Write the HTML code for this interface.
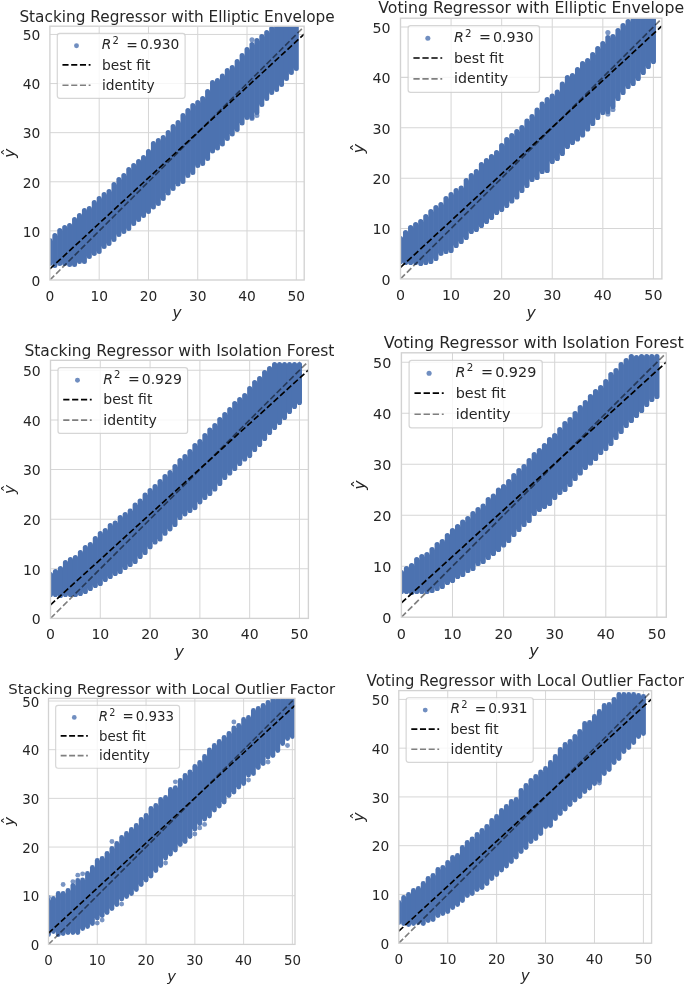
<!DOCTYPE html>
<html><head><meta charset="utf-8"><title>Regressor comparison</title>
<style>html,body{margin:0;padding:0;background:#fff;}svg{display:block;}</style></head>
<body><svg width="685" height="986" viewBox="0 0 685 986">
<rect width="685" height="986" fill="#fff"/>
<clipPath id="c1"><rect x="49.9" y="26.2" width="254.3" height="253.8"/></clipPath>
<line x1="99.18" y1="26.2" x2="99.18" y2="280" stroke="#D6D6D6" stroke-width="1"/>
<line x1="49.9" y1="230.89" x2="304.2" y2="230.89" stroke="#D6D6D6" stroke-width="1"/>
<line x1="148.46" y1="26.2" x2="148.46" y2="280" stroke="#D6D6D6" stroke-width="1"/>
<line x1="49.9" y1="181.78" x2="304.2" y2="181.78" stroke="#D6D6D6" stroke-width="1"/>
<line x1="197.74" y1="26.2" x2="197.74" y2="280" stroke="#D6D6D6" stroke-width="1"/>
<line x1="49.9" y1="132.67" x2="304.2" y2="132.67" stroke="#D6D6D6" stroke-width="1"/>
<line x1="247.02" y1="26.2" x2="247.02" y2="280" stroke="#D6D6D6" stroke-width="1"/>
<line x1="49.9" y1="83.56" x2="304.2" y2="83.56" stroke="#D6D6D6" stroke-width="1"/>
<line x1="296.3" y1="26.2" x2="296.3" y2="280" stroke="#D6D6D6" stroke-width="1"/>
<line x1="49.9" y1="34.45" x2="304.2" y2="34.45" stroke="#D6D6D6" stroke-width="1"/>
<g clip-path="url(#c1)" fill="#6283BC">
<rect x="49.9" y="240.5" width="4.93" height="23"/>
<rect x="54.83" y="235.5" width="4.93" height="28"/>
<rect x="59.76" y="230.5" width="4.93" height="33"/>
<rect x="64.68" y="227.5" width="4.93" height="36"/>
<rect x="69.61" y="225.5" width="4.93" height="39"/>
<rect x="74.54" y="219.5" width="4.93" height="42"/>
<rect x="79.47" y="215.5" width="4.93" height="46"/>
<rect x="84.4" y="210.5" width="4.93" height="46"/>
<rect x="89.32" y="208.5" width="4.93" height="45"/>
<rect x="94.25" y="202.5" width="4.93" height="49"/>
<rect x="99.18" y="198.5" width="4.93" height="48"/>
<rect x="104.11" y="194.5" width="4.93" height="49"/>
<rect x="109.04" y="191.5" width="4.93" height="48"/>
<rect x="113.96" y="184.5" width="4.93" height="50"/>
<rect x="118.89" y="179.5" width="4.93" height="52"/>
<rect x="123.82" y="175.5" width="4.93" height="53"/>
<rect x="128.75" y="169.5" width="4.93" height="54"/>
<rect x="133.68" y="165.5" width="4.93" height="54"/>
<rect x="138.6" y="161.5" width="4.93" height="54"/>
<rect x="143.53" y="157.5" width="4.93" height="54"/>
<rect x="148.46" y="151.5" width="4.93" height="55.5"/>
<rect x="153.39" y="143.5" width="4.93" height="60"/>
<rect x="158.32" y="140.5" width="4.93" height="58"/>
<rect x="163.24" y="137.5" width="4.93" height="55.5"/>
<rect x="168.17" y="132.5" width="4.93" height="56"/>
<rect x="173.1" y="126.5" width="4.93" height="57.5"/>
<rect x="178.03" y="122.5" width="4.93" height="59"/>
<rect x="182.96" y="115.5" width="4.93" height="60"/>
<rect x="187.88" y="110.5" width="4.93" height="62"/>
<rect x="192.81" y="105.5" width="4.93" height="60"/>
<rect x="197.74" y="102.5" width="4.93" height="61"/>
<rect x="202.67" y="98.5" width="4.93" height="60"/>
<rect x="207.6" y="91.5" width="4.93" height="59.5"/>
<rect x="212.52" y="82.5" width="4.93" height="65.5"/>
<rect x="217.45" y="80.5" width="4.93" height="63.5"/>
<rect x="222.38" y="76.1" width="4.93" height="62.4"/>
<rect x="227.31" y="70.5" width="4.93" height="63.5"/>
<rect x="232.24" y="67.5" width="4.93" height="62"/>
<rect x="237.16" y="61.5" width="4.93" height="61.5"/>
<rect x="242.09" y="55.5" width="4.93" height="62"/>
<rect x="247.02" y="49.5" width="4.93" height="68"/>
<rect x="251.95" y="44.5" width="4.93" height="68"/>
<rect x="256.88" y="40.5" width="4.93" height="64"/>
<rect x="261.8" y="36.5" width="4.93" height="62"/>
<rect x="266.73" y="32.5" width="4.93" height="60"/>
<rect x="271.66" y="28.5" width="4.93" height="61"/>
<rect x="276.59" y="24.5" width="4.93" height="60"/>
<rect x="281.52" y="24.5" width="4.93" height="54"/>
<rect x="286.44" y="24.5" width="4.93" height="48"/>
<rect x="291.37" y="24.5" width="4.93" height="44"/>
</g>
<g clip-path="url(#c1)" stroke="#4C72B0" stroke-width="5" stroke-linecap="round" stroke-opacity="1">
<line x1="49.9" y1="240.5" x2="49.9" y2="263.5"/>
<line x1="54.83" y1="235.5" x2="54.83" y2="265.5"/>
<line x1="59.76" y1="230.5" x2="59.76" y2="263.5"/>
<line x1="64.68" y1="227.5" x2="64.68" y2="263.5"/>
<line x1="69.61" y1="225.5" x2="69.61" y2="264.5"/>
<line x1="74.54" y1="219.5" x2="74.54" y2="264.5"/>
<line x1="79.47" y1="215.5" x2="79.47" y2="261.5"/>
<line x1="84.4" y1="210.5" x2="84.4" y2="261.5"/>
<line x1="89.32" y1="208.5" x2="89.32" y2="256.5"/>
<line x1="94.25" y1="202.5" x2="94.25" y2="253.5"/>
<line x1="99.18" y1="198.5" x2="99.18" y2="251.5"/>
<line x1="104.11" y1="194.5" x2="104.11" y2="246.5"/>
<line x1="109.04" y1="191.5" x2="109.04" y2="243.5"/>
<line x1="113.96" y1="184.5" x2="113.96" y2="239.5"/>
<line x1="118.89" y1="179.5" x2="118.89" y2="234.5"/>
<line x1="123.82" y1="175.5" x2="123.82" y2="231.5"/>
<line x1="128.75" y1="169.5" x2="128.75" y2="228.5"/>
<line x1="133.68" y1="165.5" x2="133.68" y2="223.5"/>
<line x1="138.6" y1="161.5" x2="138.6" y2="219.5"/>
<line x1="143.53" y1="157.5" x2="143.53" y2="215.5"/>
<line x1="148.46" y1="151.5" x2="148.46" y2="211.5"/>
<line x1="153.39" y1="143.5" x2="153.39" y2="207"/>
<line x1="158.32" y1="140.5" x2="158.32" y2="203.5"/>
<line x1="163.24" y1="137.5" x2="163.24" y2="198.5"/>
<line x1="168.17" y1="132.5" x2="168.17" y2="193"/>
<line x1="173.1" y1="126.5" x2="173.1" y2="188.5"/>
<line x1="178.03" y1="122.5" x2="178.03" y2="184"/>
<line x1="182.96" y1="115.5" x2="182.96" y2="181.5"/>
<line x1="187.88" y1="110.5" x2="187.88" y2="175.5"/>
<line x1="192.81" y1="105.5" x2="192.81" y2="172.5"/>
<line x1="197.74" y1="102.5" x2="197.74" y2="165.5"/>
<line x1="202.67" y1="98.5" x2="202.67" y2="163.5"/>
<line x1="207.6" y1="91.5" x2="207.6" y2="158.5"/>
<line x1="212.52" y1="82.5" x2="212.52" y2="151"/>
<line x1="217.45" y1="80.5" x2="217.45" y2="148"/>
<line x1="222.38" y1="76.1" x2="222.38" y2="144"/>
<line x1="227.31" y1="70.5" x2="227.31" y2="138.5"/>
<line x1="232.24" y1="67.5" x2="232.24" y2="134"/>
<line x1="237.16" y1="61.5" x2="237.16" y2="129.5"/>
<line x1="242.09" y1="55.5" x2="242.09" y2="123"/>
<line x1="247.02" y1="49.5" x2="247.02" y2="117.5"/>
<line x1="251.95" y1="44.5" x2="251.95" y2="117.5"/>
<line x1="256.88" y1="40.5" x2="256.88" y2="112.5"/>
<line x1="261.8" y1="36.5" x2="261.8" y2="104.5"/>
<line x1="266.73" y1="32.5" x2="266.73" y2="98.5"/>
<line x1="271.66" y1="28.5" x2="271.66" y2="92.5"/>
<line x1="276.59" y1="24.5" x2="276.59" y2="89.5"/>
<line x1="281.52" y1="24.5" x2="281.52" y2="84.5"/>
<line x1="286.44" y1="24.5" x2="286.44" y2="78.5"/>
<line x1="291.37" y1="24.5" x2="291.37" y2="72.5"/>
<line x1="296.3" y1="24.5" x2="296.3" y2="68.5"/>
</g>
<g clip-path="url(#c1)" fill="#4C72B0" fill-opacity="0.75">
<circle cx="251.95" cy="39.7" r="2.5"/>
<circle cx="256.88" cy="115.5" r="2.5"/>
<circle cx="251.95" cy="118.5" r="2.5"/>
</g>
<g clip-path="url(#c1)" fill="none">
<line x1="49.9" y1="280" x2="304.2" y2="26.58" stroke="#000" stroke-opacity="0.5" stroke-width="1.65" stroke-dasharray="6.1,2.64"/>
<line x1="49.9" y1="268.9" x2="304.2" y2="34.1" stroke="#000" stroke-width="1.65" stroke-dasharray="6.1,2.64"/>
</g>
<rect x="49.9" y="26.2" width="254.3" height="253.8" fill="none" stroke="#D2D2D2" stroke-width="1.35"/>
<rect x="57.3" y="33.4" width="127.8" height="64.9" rx="2.5" fill="#fff" fill-opacity="0.8" stroke="#ccc" stroke-opacity="0.8" stroke-width="1.2"/>
<circle cx="76.5" cy="45.8" r="2.45" fill="#4C72B0" fill-opacity="0.8"/>
<line x1="62.45" y1="64.9" x2="90.5" y2="64.9" stroke="#000" stroke-width="1.65" stroke-dasharray="6.1,2.64"/>
<line x1="62.45" y1="85.2" x2="90.5" y2="85.2" stroke="#000" stroke-opacity="0.5" stroke-width="1.65" stroke-dasharray="6.1,2.64"/>
<g fill="#262626" font-family="'DejaVu Sans', 'Liberation Sans', sans-serif" font-size="13.8">
<text x="101.85" y="49.1" font-style="italic">R</text>
<text x="112.6" y="44" font-size="9.94">2</text>
<text x="126.3" y="49.6">=</text>
<text x="139.9" y="49.1">0.930</text>
<text x="102" y="69.7">best fit</text>
<text x="102" y="89.6">identity</text>
</g>
<g fill="#262626" font-family="'DejaVu Sans', 'Liberation Sans', sans-serif" font-size="13.8">
<text x="40.3" y="285.74" text-anchor="end">0</text>
<text x="49.9" y="300.8" text-anchor="middle">0</text>
<text x="40.3" y="236.63" text-anchor="end">10</text>
<text x="99.18" y="300.8" text-anchor="middle">10</text>
<text x="40.3" y="187.52" text-anchor="end">20</text>
<text x="148.46" y="300.8" text-anchor="middle">20</text>
<text x="40.3" y="138.41" text-anchor="end">30</text>
<text x="197.74" y="300.8" text-anchor="middle">30</text>
<text x="40.3" y="89.3" text-anchor="end">40</text>
<text x="247.02" y="300.8" text-anchor="middle">40</text>
<text x="40.3" y="40.19" text-anchor="end">50</text>
<text x="296.3" y="300.8" text-anchor="middle">50</text>
</g>
<text x="177.05" y="21.5" text-anchor="middle" fill="#262626" font-family="'DejaVu Sans', 'Liberation Sans', sans-serif" font-size="15.3">Stacking Regressor with Elliptic Envelope</text>
<text x="177.05" y="317.6" text-anchor="middle" fill="#262626" font-family="'DejaVu Sans', 'Liberation Sans', sans-serif" font-size="15.3" font-style="italic">y</text>
<g transform="translate(14.8,153.1) rotate(-90)" fill="#262626" font-family="'DejaVu Sans', 'Liberation Sans', sans-serif"><text text-anchor="middle" font-size="15.3" font-style="italic">y</text><text x="-3.2" y="-1" font-size="16">ˆ</text></g>
<clipPath id="c2"><rect x="400.5" y="18.2" width="261.4" height="260.7"/></clipPath>
<line x1="451.08" y1="18.2" x2="451.08" y2="278.9" stroke="#D6D6D6" stroke-width="1.03"/>
<line x1="400.5" y1="228.52" x2="661.9" y2="228.52" stroke="#D6D6D6" stroke-width="1.03"/>
<line x1="501.66" y1="18.2" x2="501.66" y2="278.9" stroke="#D6D6D6" stroke-width="1.03"/>
<line x1="400.5" y1="178.14" x2="661.9" y2="178.14" stroke="#D6D6D6" stroke-width="1.03"/>
<line x1="552.24" y1="18.2" x2="552.24" y2="278.9" stroke="#D6D6D6" stroke-width="1.03"/>
<line x1="400.5" y1="127.76" x2="661.9" y2="127.76" stroke="#D6D6D6" stroke-width="1.03"/>
<line x1="602.82" y1="18.2" x2="602.82" y2="278.9" stroke="#D6D6D6" stroke-width="1.03"/>
<line x1="400.5" y1="77.38" x2="661.9" y2="77.38" stroke="#D6D6D6" stroke-width="1.03"/>
<line x1="653.4" y1="18.2" x2="653.4" y2="278.9" stroke="#D6D6D6" stroke-width="1.03"/>
<line x1="400.5" y1="27" x2="661.9" y2="27" stroke="#D6D6D6" stroke-width="1.03"/>
<g clip-path="url(#c2)" fill="#6283BC">
<rect x="400.5" y="238.57" width="5.06" height="22.86"/>
<rect x="405.56" y="232.57" width="5.06" height="29.86"/>
<rect x="410.62" y="227.57" width="5.06" height="34.86"/>
<rect x="415.67" y="224.57" width="5.06" height="37.86"/>
<rect x="420.73" y="221.57" width="5.06" height="40.86"/>
<rect x="425.79" y="216.57" width="5.06" height="44.86"/>
<rect x="430.85" y="211.57" width="5.06" height="46.86"/>
<rect x="435.91" y="207.57" width="5.06" height="45.86"/>
<rect x="440.96" y="204.57" width="5.06" height="46.86"/>
<rect x="446.02" y="198.57" width="5.06" height="51.86"/>
<rect x="451.08" y="194.57" width="5.06" height="50.86"/>
<rect x="456.14" y="190.57" width="5.06" height="50.86"/>
<rect x="461.2" y="188.07" width="5.06" height="49.36"/>
<rect x="466.25" y="180.57" width="5.06" height="50.86"/>
<rect x="471.31" y="175.57" width="5.06" height="53.86"/>
<rect x="476.37" y="171.57" width="5.06" height="53.86"/>
<rect x="481.43" y="164.57" width="5.06" height="56.86"/>
<rect x="486.49" y="160.57" width="5.06" height="56.86"/>
<rect x="491.54" y="156.57" width="5.06" height="55.86"/>
<rect x="496.6" y="152.57" width="5.06" height="56.86"/>
<rect x="501.66" y="145.57" width="5.06" height="59.86"/>
<rect x="506.72" y="139.57" width="5.06" height="61.36"/>
<rect x="511.78" y="135.57" width="5.06" height="61.36"/>
<rect x="516.83" y="131.57" width="5.06" height="58.86"/>
<rect x="521.89" y="127.57" width="5.06" height="57.86"/>
<rect x="526.95" y="121.07" width="5.06" height="58.36"/>
<rect x="532.01" y="116.57" width="5.06" height="60.86"/>
<rect x="537.07" y="110.07" width="5.06" height="61.36"/>
<rect x="542.12" y="104.07" width="5.06" height="66.36"/>
<rect x="547.18" y="99.57" width="5.06" height="61.86"/>
<rect x="552.24" y="96.07" width="5.06" height="62.36"/>
<rect x="557.3" y="92.07" width="5.06" height="61.36"/>
<rect x="562.36" y="84.07" width="5.06" height="62.36"/>
<rect x="567.41" y="77.57" width="5.06" height="64.86"/>
<rect x="572.47" y="75.57" width="5.06" height="63.36"/>
<rect x="577.53" y="69.57" width="5.06" height="65.36"/>
<rect x="582.59" y="63.57" width="5.06" height="65.36"/>
<rect x="587.65" y="60.57" width="5.06" height="62.86"/>
<rect x="592.7" y="54.57" width="5.06" height="62.86"/>
<rect x="597.76" y="48.57" width="5.06" height="63.86"/>
<rect x="602.82" y="43.57" width="5.06" height="67.86"/>
<rect x="607.88" y="37.57" width="5.06" height="68.86"/>
<rect x="612.94" y="36.57" width="5.06" height="61.86"/>
<rect x="617.99" y="30.57" width="5.06" height="61.86"/>
<rect x="623.05" y="25.57" width="5.06" height="60.86"/>
<rect x="628.11" y="21.57" width="5.06" height="61.86"/>
<rect x="633.17" y="16.57" width="5.06" height="61.86"/>
<rect x="638.23" y="16.57" width="5.06" height="55.86"/>
<rect x="643.28" y="16.57" width="5.06" height="49.86"/>
<rect x="648.34" y="16.57" width="5.06" height="44.86"/>
</g>
<g clip-path="url(#c2)" stroke="#4C72B0" stroke-width="5.14" stroke-linecap="round" stroke-opacity="1">
<line x1="400.5" y1="238.57" x2="400.5" y2="261.43"/>
<line x1="405.56" y1="232.57" x2="405.56" y2="262.43"/>
<line x1="410.62" y1="227.57" x2="410.62" y2="262.43"/>
<line x1="415.67" y1="224.57" x2="415.67" y2="262.43"/>
<line x1="420.73" y1="221.57" x2="420.73" y2="263.43"/>
<line x1="425.79" y1="216.57" x2="425.79" y2="262.43"/>
<line x1="430.85" y1="211.57" x2="430.85" y2="261.43"/>
<line x1="435.91" y1="207.57" x2="435.91" y2="258.43"/>
<line x1="440.96" y1="204.57" x2="440.96" y2="253.43"/>
<line x1="446.02" y1="198.57" x2="446.02" y2="251.43"/>
<line x1="451.08" y1="194.57" x2="451.08" y2="250.43"/>
<line x1="456.14" y1="190.57" x2="456.14" y2="245.43"/>
<line x1="461.2" y1="188.07" x2="461.2" y2="241.43"/>
<line x1="466.25" y1="180.57" x2="466.25" y2="237.43"/>
<line x1="471.31" y1="175.57" x2="471.31" y2="231.43"/>
<line x1="476.37" y1="171.57" x2="476.37" y2="229.43"/>
<line x1="481.43" y1="164.57" x2="481.43" y2="225.43"/>
<line x1="486.49" y1="160.57" x2="486.49" y2="221.43"/>
<line x1="491.54" y1="156.57" x2="491.54" y2="217.43"/>
<line x1="496.6" y1="152.57" x2="496.6" y2="212.43"/>
<line x1="501.66" y1="145.57" x2="501.66" y2="209.43"/>
<line x1="506.72" y1="139.57" x2="506.72" y2="205.43"/>
<line x1="511.78" y1="135.57" x2="511.78" y2="200.93"/>
<line x1="516.83" y1="131.57" x2="516.83" y2="196.93"/>
<line x1="521.89" y1="127.57" x2="521.89" y2="190.43"/>
<line x1="526.95" y1="121.07" x2="526.95" y2="185.43"/>
<line x1="532.01" y1="116.57" x2="532.01" y2="179.43"/>
<line x1="537.07" y1="110.07" x2="537.07" y2="177.43"/>
<line x1="542.12" y1="104.07" x2="542.12" y2="171.43"/>
<line x1="547.18" y1="99.57" x2="547.18" y2="170.43"/>
<line x1="552.24" y1="96.07" x2="552.24" y2="161.43"/>
<line x1="557.3" y1="92.07" x2="557.3" y2="158.43"/>
<line x1="562.36" y1="84.07" x2="562.36" y2="153.43"/>
<line x1="567.41" y1="77.57" x2="567.41" y2="146.43"/>
<line x1="572.47" y1="75.57" x2="572.47" y2="142.43"/>
<line x1="577.53" y1="69.57" x2="577.53" y2="138.93"/>
<line x1="582.59" y1="63.57" x2="582.59" y2="134.93"/>
<line x1="587.65" y1="60.57" x2="587.65" y2="128.93"/>
<line x1="592.7" y1="54.57" x2="592.7" y2="123.43"/>
<line x1="597.76" y1="48.57" x2="597.76" y2="117.43"/>
<line x1="602.82" y1="43.57" x2="602.82" y2="112.43"/>
<line x1="607.88" y1="37.57" x2="607.88" y2="111.43"/>
<line x1="612.94" y1="36.57" x2="612.94" y2="106.43"/>
<line x1="617.99" y1="30.57" x2="617.99" y2="98.43"/>
<line x1="623.05" y1="25.57" x2="623.05" y2="92.43"/>
<line x1="628.11" y1="21.57" x2="628.11" y2="86.43"/>
<line x1="633.17" y1="16.57" x2="633.17" y2="83.43"/>
<line x1="638.23" y1="16.57" x2="638.23" y2="78.43"/>
<line x1="643.28" y1="16.57" x2="643.28" y2="72.43"/>
<line x1="648.34" y1="16.57" x2="648.34" y2="66.43"/>
<line x1="653.4" y1="16.57" x2="653.4" y2="61.43"/>
</g>
<g clip-path="url(#c2)" fill="#4C72B0" fill-opacity="0.75">
<circle cx="607.88" cy="32.5" r="2.57"/>
<circle cx="612.94" cy="109.5" r="2.57"/>
<circle cx="607.88" cy="114" r="2.57"/>
</g>
<g clip-path="url(#c2)" fill="none">
<line x1="400.5" y1="278.9" x2="661.9" y2="18.53" stroke="#000" stroke-opacity="0.5" stroke-width="1.7" stroke-dasharray="6.28,2.71"/>
<line x1="400.5" y1="267.5" x2="661.9" y2="25.9" stroke="#000" stroke-width="1.7" stroke-dasharray="6.28,2.71"/>
</g>
<rect x="400.5" y="18.2" width="261.4" height="260.7" fill="none" stroke="#D2D2D2" stroke-width="1.39"/>
<rect x="408.11" y="25.6" width="131.37" height="66.71" rx="2.57" fill="#fff" fill-opacity="0.8" stroke="#ccc" stroke-opacity="0.8" stroke-width="1.23"/>
<circle cx="427.84" cy="38.35" r="2.52" fill="#4C72B0" fill-opacity="0.8"/>
<line x1="413.4" y1="57.98" x2="442.23" y2="57.98" stroke="#000" stroke-width="1.7" stroke-dasharray="6.28,2.71"/>
<line x1="413.4" y1="78.85" x2="442.23" y2="78.85" stroke="#000" stroke-opacity="0.5" stroke-width="1.7" stroke-dasharray="6.28,2.71"/>
<g fill="#262626" font-family="'DejaVu Sans', 'Liberation Sans', sans-serif" font-size="14.19">
<text x="453.9" y="41.74" font-style="italic">R</text>
<text x="464.95" y="36.5" font-size="10.21">2</text>
<text x="479.03" y="42.25">=</text>
<text x="493.01" y="41.74">0.930</text>
<text x="454.05" y="62.91">best fit</text>
<text x="454.05" y="83.37">identity</text>
</g>
<g fill="#262626" font-family="'DejaVu Sans', 'Liberation Sans', sans-serif" font-size="14.19">
<text x="390.63" y="284.8" text-anchor="end">0</text>
<text x="400.5" y="300.28" text-anchor="middle">0</text>
<text x="390.63" y="234.42" text-anchor="end">10</text>
<text x="451.08" y="300.28" text-anchor="middle">10</text>
<text x="390.63" y="184.04" text-anchor="end">20</text>
<text x="501.66" y="300.28" text-anchor="middle">20</text>
<text x="390.63" y="133.66" text-anchor="end">30</text>
<text x="552.24" y="300.28" text-anchor="middle">30</text>
<text x="390.63" y="83.28" text-anchor="end">40</text>
<text x="602.82" y="300.28" text-anchor="middle">40</text>
<text x="390.63" y="32.9" text-anchor="end">50</text>
<text x="653.4" y="300.28" text-anchor="middle">50</text>
</g>
<text x="531.2" y="13.37" text-anchor="middle" fill="#262626" font-family="'DejaVu Sans', 'Liberation Sans', sans-serif" font-size="15.73">Voting Regressor with Elliptic Envelope</text>
<text x="531.2" y="317.55" text-anchor="middle" fill="#262626" font-family="'DejaVu Sans', 'Liberation Sans', sans-serif" font-size="15.73" font-style="italic">y</text>
<g transform="translate(364.42,148.55) rotate(-90)" fill="#262626" font-family="'DejaVu Sans', 'Liberation Sans', sans-serif"><text text-anchor="middle" font-size="15.73" font-style="italic">y</text><text x="-3.29" y="-1.03" font-size="16.45">ˆ</text></g>
<clipPath id="c3"><rect x="50.5" y="360.3" width="257.9" height="258.1"/></clipPath>
<line x1="100.29" y1="360.3" x2="100.29" y2="618.4" stroke="#D6D6D6" stroke-width="1.01"/>
<line x1="50.5" y1="568.78" x2="308.4" y2="568.78" stroke="#D6D6D6" stroke-width="1.01"/>
<line x1="150.08" y1="360.3" x2="150.08" y2="618.4" stroke="#D6D6D6" stroke-width="1.01"/>
<line x1="50.5" y1="519.16" x2="308.4" y2="519.16" stroke="#D6D6D6" stroke-width="1.01"/>
<line x1="199.88" y1="360.3" x2="199.88" y2="618.4" stroke="#D6D6D6" stroke-width="1.01"/>
<line x1="50.5" y1="469.54" x2="308.4" y2="469.54" stroke="#D6D6D6" stroke-width="1.01"/>
<line x1="249.67" y1="360.3" x2="249.67" y2="618.4" stroke="#D6D6D6" stroke-width="1.01"/>
<line x1="50.5" y1="419.92" x2="308.4" y2="419.92" stroke="#D6D6D6" stroke-width="1.01"/>
<line x1="299.46" y1="360.3" x2="299.46" y2="618.4" stroke="#D6D6D6" stroke-width="1.01"/>
<line x1="50.5" y1="370.3" x2="308.4" y2="370.3" stroke="#D6D6D6" stroke-width="1.01"/>
<g clip-path="url(#c3)" fill="#6283BC">
<rect x="50.5" y="574.54" width="4.98" height="19.93"/>
<rect x="55.48" y="571.54" width="4.98" height="22.93"/>
<rect x="60.46" y="568.54" width="4.98" height="25.93"/>
<rect x="65.44" y="562.54" width="4.98" height="31.93"/>
<rect x="70.42" y="559.54" width="4.98" height="34.93"/>
<rect x="75.4" y="557.54" width="4.98" height="35.93"/>
<rect x="80.38" y="552.54" width="4.98" height="38.93"/>
<rect x="85.35" y="547.54" width="4.98" height="40.93"/>
<rect x="90.33" y="544.54" width="4.98" height="40.93"/>
<rect x="95.31" y="538.54" width="4.98" height="44.93"/>
<rect x="100.29" y="533.54" width="4.98" height="45.93"/>
<rect x="105.27" y="530.54" width="4.98" height="45.93"/>
<rect x="110.25" y="525.54" width="4.98" height="47.93"/>
<rect x="115.23" y="523.04" width="4.98" height="48.43"/>
<rect x="120.21" y="517.54" width="4.98" height="49.93"/>
<rect x="125.19" y="514.54" width="4.98" height="49.93"/>
<rect x="130.17" y="511.04" width="4.98" height="50.43"/>
<rect x="135.15" y="505.04" width="4.98" height="51.43"/>
<rect x="140.13" y="501.04" width="4.98" height="51.43"/>
<rect x="145.1" y="495.04" width="4.98" height="51.73"/>
<rect x="150.08" y="490.54" width="4.98" height="51.43"/>
<rect x="155.06" y="486.54" width="4.98" height="52.53"/>
<rect x="160.04" y="481.54" width="4.98" height="51.73"/>
<rect x="165.02" y="476.54" width="4.98" height="52.33"/>
<rect x="170" y="472.54" width="4.98" height="51.93"/>
<rect x="174.98" y="466.54" width="4.98" height="51.03"/>
<rect x="179.96" y="460.54" width="4.98" height="53.33"/>
<rect x="184.94" y="456.54" width="4.98" height="54.03"/>
<rect x="189.92" y="451.54" width="4.98" height="56.13"/>
<rect x="194.9" y="445.54" width="4.98" height="56.33"/>
<rect x="199.88" y="441.54" width="4.98" height="55.93"/>
<rect x="204.86" y="435.54" width="4.98" height="57.93"/>
<rect x="209.83" y="430.04" width="4.98" height="58.93"/>
<rect x="214.81" y="425.54" width="4.98" height="57.93"/>
<rect x="219.79" y="419.54" width="4.98" height="57.93"/>
<rect x="224.77" y="414.54" width="4.98" height="58.43"/>
<rect x="229.75" y="409.54" width="4.98" height="58.93"/>
<rect x="234.73" y="403.54" width="4.98" height="59.93"/>
<rect x="239.71" y="399.54" width="4.98" height="59.43"/>
<rect x="244.69" y="395.54" width="4.98" height="59.93"/>
<rect x="249.67" y="388.54" width="4.98" height="60.93"/>
<rect x="254.65" y="382.54" width="4.98" height="61.93"/>
<rect x="259.63" y="378.54" width="4.98" height="59.93"/>
<rect x="264.61" y="372.54" width="4.98" height="59.93"/>
<rect x="269.58" y="368.54" width="4.98" height="58.93"/>
<rect x="274.56" y="364.54" width="4.98" height="57.93"/>
<rect x="279.54" y="364.54" width="4.98" height="52.93"/>
<rect x="284.52" y="364.54" width="4.98" height="46.93"/>
<rect x="289.5" y="364.54" width="4.98" height="41.93"/>
<rect x="294.48" y="364.54" width="4.98" height="37.93"/>
</g>
<g clip-path="url(#c3)" stroke="#4C72B0" stroke-width="5.07" stroke-linecap="round" stroke-opacity="1">
<line x1="50.5" y1="574.54" x2="50.5" y2="594.46"/>
<line x1="55.48" y1="571.54" x2="55.48" y2="594.46"/>
<line x1="60.46" y1="568.54" x2="60.46" y2="595.46"/>
<line x1="65.44" y1="562.54" x2="65.44" y2="594.46"/>
<line x1="70.42" y1="559.54" x2="70.42" y2="594.46"/>
<line x1="75.4" y1="557.54" x2="75.4" y2="594.46"/>
<line x1="80.38" y1="552.54" x2="80.38" y2="593.46"/>
<line x1="85.35" y1="547.54" x2="85.35" y2="591.46"/>
<line x1="90.33" y1="544.54" x2="90.33" y2="588.46"/>
<line x1="95.31" y1="538.54" x2="95.31" y2="585.46"/>
<line x1="100.29" y1="533.54" x2="100.29" y2="583.46"/>
<line x1="105.27" y1="530.54" x2="105.27" y2="579.46"/>
<line x1="110.25" y1="525.54" x2="110.25" y2="576.46"/>
<line x1="115.23" y1="523.04" x2="115.23" y2="573.46"/>
<line x1="120.21" y1="517.54" x2="120.21" y2="571.46"/>
<line x1="125.19" y1="514.54" x2="125.19" y2="567.46"/>
<line x1="130.17" y1="511.04" x2="130.17" y2="564.46"/>
<line x1="135.15" y1="505.04" x2="135.15" y2="561.46"/>
<line x1="140.13" y1="501.04" x2="140.13" y2="556.46"/>
<line x1="145.1" y1="495.04" x2="145.1" y2="552.46"/>
<line x1="150.08" y1="490.54" x2="150.08" y2="546.76"/>
<line x1="155.06" y1="486.54" x2="155.06" y2="541.96"/>
<line x1="160.04" y1="481.54" x2="160.04" y2="539.06"/>
<line x1="165.02" y1="476.54" x2="165.02" y2="533.26"/>
<line x1="170" y1="472.54" x2="170" y2="528.86"/>
<line x1="174.98" y1="466.54" x2="174.98" y2="524.46"/>
<line x1="179.96" y1="460.54" x2="179.96" y2="517.56"/>
<line x1="184.94" y1="456.54" x2="184.94" y2="513.86"/>
<line x1="189.92" y1="451.54" x2="189.92" y2="510.56"/>
<line x1="194.9" y1="445.54" x2="194.9" y2="507.66"/>
<line x1="199.88" y1="441.54" x2="199.88" y2="501.86"/>
<line x1="204.86" y1="435.54" x2="204.86" y2="497.46"/>
<line x1="209.83" y1="430.04" x2="209.83" y2="493.46"/>
<line x1="214.81" y1="425.54" x2="214.81" y2="488.96"/>
<line x1="219.79" y1="419.54" x2="219.79" y2="483.46"/>
<line x1="224.77" y1="414.54" x2="224.77" y2="477.46"/>
<line x1="229.75" y1="409.54" x2="229.75" y2="472.96"/>
<line x1="234.73" y1="403.54" x2="234.73" y2="468.46"/>
<line x1="239.71" y1="399.54" x2="239.71" y2="463.46"/>
<line x1="244.69" y1="395.54" x2="244.69" y2="458.96"/>
<line x1="249.67" y1="388.54" x2="249.67" y2="455.46"/>
<line x1="254.65" y1="382.54" x2="254.65" y2="449.46"/>
<line x1="259.63" y1="378.54" x2="259.63" y2="444.46"/>
<line x1="264.61" y1="372.54" x2="264.61" y2="438.46"/>
<line x1="269.58" y1="368.54" x2="269.58" y2="432.46"/>
<line x1="274.56" y1="364.54" x2="274.56" y2="427.46"/>
<line x1="279.54" y1="364.54" x2="279.54" y2="422.46"/>
<line x1="284.52" y1="364.54" x2="284.52" y2="417.46"/>
<line x1="289.5" y1="364.54" x2="289.5" y2="411.46"/>
<line x1="294.48" y1="364.54" x2="294.48" y2="406.46"/>
<line x1="299.46" y1="364.54" x2="299.46" y2="402.46"/>
</g>
<g clip-path="url(#c3)" fill="none">
<line x1="50.5" y1="618.4" x2="308.4" y2="361.39" stroke="#000" stroke-opacity="0.5" stroke-width="1.67" stroke-dasharray="6.19,2.68"/>
<line x1="50.5" y1="604.8" x2="308.4" y2="370.1" stroke="#000" stroke-width="1.67" stroke-dasharray="6.19,2.68"/>
</g>
<rect x="50.5" y="360.3" width="257.9" height="258.1" fill="none" stroke="#D2D2D2" stroke-width="1.37"/>
<rect x="58" y="367.6" width="129.61" height="65.82" rx="2.54" fill="#fff" fill-opacity="0.8" stroke="#ccc" stroke-opacity="0.8" stroke-width="1.22"/>
<circle cx="77.48" cy="380.18" r="2.48" fill="#4C72B0" fill-opacity="0.8"/>
<line x1="63.23" y1="399.55" x2="91.67" y2="399.55" stroke="#000" stroke-width="1.67" stroke-dasharray="6.19,2.68"/>
<line x1="63.23" y1="420.14" x2="91.67" y2="420.14" stroke="#000" stroke-opacity="0.5" stroke-width="1.67" stroke-dasharray="6.19,2.68"/>
<g fill="#262626" font-family="'DejaVu Sans', 'Liberation Sans', sans-serif" font-size="14">
<text x="103.19" y="383.52" font-style="italic">R</text>
<text x="114.09" y="378.35" font-size="10.08">2</text>
<text x="127.98" y="384.03">=</text>
<text x="141.77" y="383.52">0.929</text>
<text x="103.34" y="404.42">best fit</text>
<text x="103.34" y="424.6">identity</text>
</g>
<g fill="#262626" font-family="'DejaVu Sans', 'Liberation Sans', sans-serif" font-size="14">
<text x="40.76" y="624.23" text-anchor="end">0</text>
<text x="50.5" y="639.49" text-anchor="middle">0</text>
<text x="40.76" y="574.61" text-anchor="end">10</text>
<text x="100.29" y="639.49" text-anchor="middle">10</text>
<text x="40.76" y="524.99" text-anchor="end">20</text>
<text x="150.08" y="639.49" text-anchor="middle">20</text>
<text x="40.76" y="475.37" text-anchor="end">30</text>
<text x="199.88" y="639.49" text-anchor="middle">30</text>
<text x="40.76" y="425.75" text-anchor="end">40</text>
<text x="249.67" y="639.49" text-anchor="middle">40</text>
<text x="40.76" y="376.13" text-anchor="end">50</text>
<text x="299.46" y="639.49" text-anchor="middle">50</text>
</g>
<text x="179.45" y="355.53" text-anchor="middle" fill="#262626" font-family="'DejaVu Sans', 'Liberation Sans', sans-serif" font-size="15.52">Stacking Regressor with Isolation Forest</text>
<text x="179.45" y="656.53" text-anchor="middle" fill="#262626" font-family="'DejaVu Sans', 'Liberation Sans', sans-serif" font-size="15.52" font-style="italic">y</text>
<g transform="translate(14.9,489.35) rotate(-90)" fill="#262626" font-family="'DejaVu Sans', 'Liberation Sans', sans-serif"><text text-anchor="middle" font-size="15.52" font-style="italic">y</text><text x="-3.25" y="-1.01" font-size="16.23">ˆ</text></g>
<clipPath id="c4"><rect x="401.4" y="352.8" width="264.9" height="264.4"/></clipPath>
<line x1="452.5" y1="352.8" x2="452.5" y2="617.2" stroke="#D6D6D6" stroke-width="1.04"/>
<line x1="401.4" y1="566.22" x2="666.3" y2="566.22" stroke="#D6D6D6" stroke-width="1.04"/>
<line x1="503.6" y1="352.8" x2="503.6" y2="617.2" stroke="#D6D6D6" stroke-width="1.04"/>
<line x1="401.4" y1="515.24" x2="666.3" y2="515.24" stroke="#D6D6D6" stroke-width="1.04"/>
<line x1="554.7" y1="352.8" x2="554.7" y2="617.2" stroke="#D6D6D6" stroke-width="1.04"/>
<line x1="401.4" y1="464.26" x2="666.3" y2="464.26" stroke="#D6D6D6" stroke-width="1.04"/>
<line x1="605.8" y1="352.8" x2="605.8" y2="617.2" stroke="#D6D6D6" stroke-width="1.04"/>
<line x1="401.4" y1="413.28" x2="666.3" y2="413.28" stroke="#D6D6D6" stroke-width="1.04"/>
<line x1="656.9" y1="352.8" x2="656.9" y2="617.2" stroke="#D6D6D6" stroke-width="1.04"/>
<line x1="401.4" y1="362.3" x2="666.3" y2="362.3" stroke="#D6D6D6" stroke-width="1.04"/>
<g clip-path="url(#c4)" fill="#6283BC">
<rect x="401.4" y="572.6" width="5.11" height="18.79"/>
<rect x="406.51" y="568.6" width="5.11" height="22.79"/>
<rect x="411.62" y="565.6" width="5.11" height="25.79"/>
<rect x="416.73" y="559.6" width="5.11" height="31.79"/>
<rect x="421.84" y="556.6" width="5.11" height="34.79"/>
<rect x="426.95" y="554.6" width="5.11" height="35.79"/>
<rect x="432.06" y="549.6" width="5.11" height="38.79"/>
<rect x="437.17" y="544.6" width="5.11" height="41.79"/>
<rect x="442.28" y="541.6" width="5.11" height="40.79"/>
<rect x="447.39" y="535.6" width="5.11" height="44.79"/>
<rect x="452.5" y="530.6" width="5.11" height="45.79"/>
<rect x="457.61" y="526.6" width="5.11" height="47.79"/>
<rect x="462.72" y="522.1" width="5.11" height="48.29"/>
<rect x="467.83" y="518.6" width="5.11" height="49.79"/>
<rect x="472.94" y="513.6" width="5.11" height="49.79"/>
<rect x="478.05" y="509.6" width="5.11" height="51.79"/>
<rect x="483.16" y="506.1" width="5.11" height="51.29"/>
<rect x="488.27" y="499.6" width="5.11" height="53.79"/>
<rect x="493.38" y="496.1" width="5.11" height="53.29"/>
<rect x="498.49" y="490.1" width="5.11" height="54.79"/>
<rect x="503.6" y="486.6" width="5.11" height="53.79"/>
<rect x="508.71" y="481.6" width="5.11" height="52.79"/>
<rect x="513.82" y="475.6" width="5.11" height="53.79"/>
<rect x="518.93" y="470.6" width="5.11" height="53.79"/>
<rect x="524.04" y="466.6" width="5.11" height="53.79"/>
<rect x="529.15" y="460.6" width="5.11" height="52.79"/>
<rect x="534.26" y="454.6" width="5.11" height="54.79"/>
<rect x="539.37" y="450.6" width="5.11" height="55.79"/>
<rect x="544.48" y="445.6" width="5.11" height="57.79"/>
<rect x="549.59" y="439.6" width="5.11" height="57.79"/>
<rect x="554.7" y="435.6" width="5.11" height="56.79"/>
<rect x="559.81" y="429.6" width="5.11" height="59.79"/>
<rect x="564.92" y="423.6" width="5.11" height="60.79"/>
<rect x="570.03" y="419.6" width="5.11" height="58.79"/>
<rect x="575.14" y="413.6" width="5.11" height="59.29"/>
<rect x="580.25" y="407.6" width="5.11" height="59.79"/>
<rect x="585.36" y="402.6" width="5.11" height="60.29"/>
<rect x="590.47" y="396.6" width="5.11" height="61.79"/>
<rect x="595.58" y="391.6" width="5.11" height="60.79"/>
<rect x="600.69" y="387.6" width="5.11" height="60.79"/>
<rect x="605.8" y="381.6" width="5.11" height="61.79"/>
<rect x="610.91" y="374.6" width="5.11" height="62.79"/>
<rect x="616.02" y="370.6" width="5.11" height="60.79"/>
<rect x="621.13" y="364.6" width="5.11" height="60.79"/>
<rect x="626.24" y="360.6" width="5.11" height="59.79"/>
<rect x="631.35" y="357.6" width="5.11" height="57.79"/>
<rect x="636.46" y="357.6" width="5.11" height="52.79"/>
<rect x="641.57" y="356.6" width="5.11" height="47.79"/>
<rect x="646.68" y="356.6" width="5.11" height="42.79"/>
<rect x="651.79" y="356.6" width="5.11" height="39.79"/>
</g>
<g clip-path="url(#c4)" stroke="#4C72B0" stroke-width="5.21" stroke-linecap="round" stroke-opacity="1">
<line x1="401.4" y1="572.6" x2="401.4" y2="591.4"/>
<line x1="406.51" y1="568.6" x2="406.51" y2="591.4"/>
<line x1="411.62" y1="565.6" x2="411.62" y2="592.4"/>
<line x1="416.73" y1="559.6" x2="416.73" y2="591.4"/>
<line x1="421.84" y1="556.6" x2="421.84" y2="591.4"/>
<line x1="426.95" y1="554.6" x2="426.95" y2="591.4"/>
<line x1="432.06" y1="549.6" x2="432.06" y2="590.4"/>
<line x1="437.17" y1="544.6" x2="437.17" y2="588.4"/>
<line x1="442.28" y1="541.6" x2="442.28" y2="586.4"/>
<line x1="447.39" y1="535.6" x2="447.39" y2="582.4"/>
<line x1="452.5" y1="530.6" x2="452.5" y2="580.4"/>
<line x1="457.61" y1="526.6" x2="457.61" y2="576.4"/>
<line x1="462.72" y1="522.1" x2="462.72" y2="574.4"/>
<line x1="467.83" y1="518.6" x2="467.83" y2="570.4"/>
<line x1="472.94" y1="513.6" x2="472.94" y2="568.4"/>
<line x1="478.05" y1="509.6" x2="478.05" y2="563.4"/>
<line x1="483.16" y1="506.1" x2="483.16" y2="561.4"/>
<line x1="488.27" y1="499.6" x2="488.27" y2="557.4"/>
<line x1="493.38" y1="496.1" x2="493.38" y2="553.4"/>
<line x1="498.49" y1="490.1" x2="498.49" y2="549.4"/>
<line x1="503.6" y1="486.6" x2="503.6" y2="544.9"/>
<line x1="508.71" y1="481.6" x2="508.71" y2="540.4"/>
<line x1="513.82" y1="475.6" x2="513.82" y2="534.4"/>
<line x1="518.93" y1="470.6" x2="518.93" y2="529.4"/>
<line x1="524.04" y1="466.6" x2="524.04" y2="524.4"/>
<line x1="529.15" y1="460.6" x2="529.15" y2="520.4"/>
<line x1="534.26" y1="454.6" x2="534.26" y2="513.4"/>
<line x1="539.37" y1="450.6" x2="539.37" y2="509.4"/>
<line x1="544.48" y1="445.6" x2="544.48" y2="506.4"/>
<line x1="549.59" y1="439.6" x2="549.59" y2="503.4"/>
<line x1="554.7" y1="435.6" x2="554.7" y2="497.4"/>
<line x1="559.81" y1="429.6" x2="559.81" y2="492.4"/>
<line x1="564.92" y1="423.6" x2="564.92" y2="489.4"/>
<line x1="570.03" y1="419.6" x2="570.03" y2="484.4"/>
<line x1="575.14" y1="413.6" x2="575.14" y2="478.4"/>
<line x1="580.25" y1="407.6" x2="580.25" y2="472.9"/>
<line x1="585.36" y1="402.6" x2="585.36" y2="467.4"/>
<line x1="590.47" y1="396.6" x2="590.47" y2="462.9"/>
<line x1="595.58" y1="391.6" x2="595.58" y2="458.4"/>
<line x1="600.69" y1="387.6" x2="600.69" y2="452.4"/>
<line x1="605.8" y1="381.6" x2="605.8" y2="448.4"/>
<line x1="610.91" y1="374.6" x2="610.91" y2="443.4"/>
<line x1="616.02" y1="370.6" x2="616.02" y2="437.4"/>
<line x1="621.13" y1="364.6" x2="621.13" y2="431.4"/>
<line x1="626.24" y1="360.6" x2="626.24" y2="425.4"/>
<line x1="631.35" y1="356.6" x2="631.35" y2="420.4"/>
<line x1="636.46" y1="357.6" x2="636.46" y2="415.4"/>
<line x1="641.57" y1="356.6" x2="641.57" y2="410.4"/>
<line x1="646.68" y1="356.6" x2="646.68" y2="404.4"/>
<line x1="651.79" y1="356.6" x2="651.79" y2="399.4"/>
<line x1="656.9" y1="356.6" x2="656.9" y2="396.4"/>
</g>
<g clip-path="url(#c4)" fill="none">
<line x1="401.4" y1="617.2" x2="666.3" y2="352.92" stroke="#000" stroke-opacity="0.5" stroke-width="1.72" stroke-dasharray="6.36,2.75"/>
<line x1="401.4" y1="602.9" x2="666.3" y2="362.2" stroke="#000" stroke-width="1.72" stroke-dasharray="6.36,2.75"/>
</g>
<rect x="401.4" y="352.8" width="264.9" height="264.4" fill="none" stroke="#D2D2D2" stroke-width="1.41"/>
<rect x="409.11" y="360.3" width="133.13" height="67.61" rx="2.6" fill="#fff" fill-opacity="0.8" stroke="#ccc" stroke-opacity="0.8" stroke-width="1.25"/>
<circle cx="429.11" cy="373.22" r="2.55" fill="#4C72B0" fill-opacity="0.8"/>
<line x1="414.47" y1="393.11" x2="443.69" y2="393.11" stroke="#000" stroke-width="1.72" stroke-dasharray="6.36,2.75"/>
<line x1="414.47" y1="414.26" x2="443.69" y2="414.26" stroke="#000" stroke-opacity="0.5" stroke-width="1.72" stroke-dasharray="6.36,2.75"/>
<g fill="#262626" font-family="'DejaVu Sans', 'Liberation Sans', sans-serif" font-size="14.38">
<text x="455.52" y="376.65" font-style="italic">R</text>
<text x="466.71" y="371.34" font-size="10.35">2</text>
<text x="480.98" y="377.18">=</text>
<text x="495.15" y="376.65">0.929</text>
<text x="455.67" y="398.11">best fit</text>
<text x="455.67" y="418.84">identity</text>
</g>
<g fill="#262626" font-family="'DejaVu Sans', 'Liberation Sans', sans-serif" font-size="14.38">
<text x="391.4" y="623.18" text-anchor="end">0</text>
<text x="401.4" y="638.87" text-anchor="middle">0</text>
<text x="391.4" y="572.2" text-anchor="end">10</text>
<text x="452.5" y="638.87" text-anchor="middle">10</text>
<text x="391.4" y="521.22" text-anchor="end">20</text>
<text x="503.6" y="638.87" text-anchor="middle">20</text>
<text x="391.4" y="470.24" text-anchor="end">30</text>
<text x="554.7" y="638.87" text-anchor="middle">30</text>
<text x="391.4" y="419.26" text-anchor="end">40</text>
<text x="605.8" y="638.87" text-anchor="middle">40</text>
<text x="391.4" y="368.28" text-anchor="end">50</text>
<text x="656.9" y="638.87" text-anchor="middle">50</text>
</g>
<text x="533.85" y="347.9" text-anchor="middle" fill="#262626" font-family="'DejaVu Sans', 'Liberation Sans', sans-serif" font-size="15.94">Voting Regressor with Isolation Forest</text>
<text x="533.85" y="656.37" text-anchor="middle" fill="#262626" font-family="'DejaVu Sans', 'Liberation Sans', sans-serif" font-size="15.94" font-style="italic">y</text>
<g transform="translate(364.84,485) rotate(-90)" fill="#262626" font-family="'DejaVu Sans', 'Liberation Sans', sans-serif"><text text-anchor="middle" font-size="15.94" font-style="italic">y</text><text x="-3.33" y="-1.04" font-size="16.67">ˆ</text></g>
<clipPath id="c5"><rect x="48.5" y="698.4" width="246.5" height="246"/></clipPath>
<line x1="97.28" y1="698.4" x2="97.28" y2="944.4" stroke="#D6D6D6" stroke-width="0.97"/>
<line x1="48.5" y1="895.72" x2="295" y2="895.72" stroke="#D6D6D6" stroke-width="0.97"/>
<line x1="146.06" y1="698.4" x2="146.06" y2="944.4" stroke="#D6D6D6" stroke-width="0.97"/>
<line x1="48.5" y1="847.04" x2="295" y2="847.04" stroke="#D6D6D6" stroke-width="0.97"/>
<line x1="194.84" y1="698.4" x2="194.84" y2="944.4" stroke="#D6D6D6" stroke-width="0.97"/>
<line x1="48.5" y1="798.36" x2="295" y2="798.36" stroke="#D6D6D6" stroke-width="0.97"/>
<line x1="243.62" y1="698.4" x2="243.62" y2="944.4" stroke="#D6D6D6" stroke-width="0.97"/>
<line x1="48.5" y1="749.68" x2="295" y2="749.68" stroke="#D6D6D6" stroke-width="0.97"/>
<line x1="292.4" y1="698.4" x2="292.4" y2="944.4" stroke="#D6D6D6" stroke-width="0.97"/>
<line x1="48.5" y1="701" x2="295" y2="701" stroke="#D6D6D6" stroke-width="0.97"/>
<g clip-path="url(#c5)" fill="#6283BC">
<rect x="48.5" y="900.42" width="4.88" height="31.15"/>
<rect x="53.38" y="898.42" width="4.88" height="33.15"/>
<rect x="58.26" y="893.42" width="4.88" height="40.15"/>
<rect x="63.13" y="893.42" width="4.88" height="39.15"/>
<rect x="68.01" y="890.42" width="4.88" height="42.15"/>
<rect x="72.89" y="885.42" width="4.88" height="47.15"/>
<rect x="77.77" y="880.42" width="4.88" height="48.15"/>
<rect x="82.65" y="879.92" width="4.88" height="46.65"/>
<rect x="87.52" y="873.42" width="4.88" height="50.15"/>
<rect x="92.4" y="867.42" width="4.88" height="50.65"/>
<rect x="97.28" y="860.42" width="4.88" height="55.15"/>
<rect x="102.16" y="858.42" width="4.88" height="54.15"/>
<rect x="107.04" y="853.42" width="4.88" height="55.15"/>
<rect x="111.91" y="848.42" width="4.88" height="56.15"/>
<rect x="116.79" y="843.42" width="4.88" height="55.65"/>
<rect x="121.67" y="837.42" width="4.88" height="59.15"/>
<rect x="126.55" y="833.42" width="4.88" height="60.15"/>
<rect x="131.43" y="829.42" width="4.88" height="60.15"/>
<rect x="136.3" y="825.42" width="4.88" height="59.15"/>
<rect x="141.18" y="819.42" width="4.88" height="60.65"/>
<rect x="146.06" y="815.42" width="4.88" height="60.65"/>
<rect x="150.94" y="808.42" width="4.88" height="62.15"/>
<rect x="155.82" y="805.42" width="4.88" height="60.15"/>
<rect x="160.69" y="799.42" width="4.88" height="58.65"/>
<rect x="165.57" y="797.42" width="4.88" height="56.65"/>
<rect x="170.45" y="789.42" width="4.88" height="60.65"/>
<rect x="175.33" y="787.72" width="4.88" height="56.85"/>
<rect x="180.21" y="780.42" width="4.88" height="61.15"/>
<rect x="185.08" y="775.42" width="4.88" height="61.15"/>
<rect x="189.96" y="771.92" width="4.88" height="57.15"/>
<rect x="194.84" y="766.42" width="4.88" height="57.15"/>
<rect x="199.72" y="762.42" width="4.88" height="56.65"/>
<rect x="204.6" y="756.42" width="4.88" height="59.65"/>
<rect x="209.47" y="749.92" width="4.88" height="60.15"/>
<rect x="214.35" y="745.42" width="4.88" height="60.65"/>
<rect x="219.23" y="741.42" width="4.88" height="60.65"/>
<rect x="224.11" y="737.42" width="4.88" height="58.15"/>
<rect x="228.99" y="733.42" width="4.88" height="58.65"/>
<rect x="233.86" y="727.92" width="4.88" height="59.15"/>
<rect x="238.74" y="725.42" width="4.88" height="58.15"/>
<rect x="243.62" y="719.42" width="4.88" height="55.65"/>
<rect x="248.5" y="717.42" width="4.88" height="56.15"/>
<rect x="253.38" y="710.42" width="4.88" height="57.15"/>
<rect x="258.25" y="708.42" width="4.88" height="55.15"/>
<rect x="263.13" y="705.42" width="4.88" height="51.65"/>
<rect x="268.01" y="702.42" width="4.88" height="53.15"/>
<rect x="272.89" y="699.42" width="4.88" height="51.15"/>
<rect x="277.77" y="699.42" width="4.88" height="44.15"/>
<rect x="282.64" y="699.42" width="4.88" height="39.15"/>
<rect x="287.52" y="699.42" width="4.88" height="37.15"/>
</g>
<g clip-path="url(#c5)" stroke="#4C72B0" stroke-width="4.85" stroke-linecap="round" stroke-opacity="1">
<line x1="48.5" y1="900.42" x2="48.5" y2="934.58"/>
<line x1="53.38" y1="898.42" x2="53.38" y2="931.58"/>
<line x1="58.26" y1="893.42" x2="58.26" y2="934.58"/>
<line x1="63.13" y1="893.42" x2="63.13" y2="933.58"/>
<line x1="68.01" y1="890.42" x2="68.01" y2="932.58"/>
<line x1="72.89" y1="885.42" x2="72.89" y2="932.58"/>
<line x1="77.77" y1="880.42" x2="77.77" y2="932.58"/>
<line x1="82.65" y1="879.92" x2="82.65" y2="928.58"/>
<line x1="87.52" y1="873.42" x2="87.52" y2="926.58"/>
<line x1="92.4" y1="867.42" x2="92.4" y2="923.58"/>
<line x1="97.28" y1="860.42" x2="97.28" y2="918.08"/>
<line x1="102.16" y1="858.42" x2="102.16" y2="915.58"/>
<line x1="107.04" y1="853.42" x2="107.04" y2="912.58"/>
<line x1="111.91" y1="848.42" x2="111.91" y2="908.58"/>
<line x1="116.79" y1="843.42" x2="116.79" y2="904.58"/>
<line x1="121.67" y1="837.42" x2="121.67" y2="899.08"/>
<line x1="126.55" y1="833.42" x2="126.55" y2="896.58"/>
<line x1="131.43" y1="829.42" x2="131.43" y2="893.58"/>
<line x1="136.3" y1="825.42" x2="136.3" y2="889.58"/>
<line x1="141.18" y1="819.42" x2="141.18" y2="884.58"/>
<line x1="146.06" y1="815.42" x2="146.06" y2="880.08"/>
<line x1="150.94" y1="808.42" x2="150.94" y2="876.08"/>
<line x1="155.82" y1="805.42" x2="155.82" y2="870.58"/>
<line x1="160.69" y1="799.42" x2="160.69" y2="865.58"/>
<line x1="165.57" y1="797.42" x2="165.57" y2="858.08"/>
<line x1="170.45" y1="789.42" x2="170.45" y2="854.08"/>
<line x1="175.33" y1="787.72" x2="175.33" y2="850.08"/>
<line x1="180.21" y1="780.42" x2="180.21" y2="844.58"/>
<line x1="185.08" y1="775.42" x2="185.08" y2="841.58"/>
<line x1="189.96" y1="771.92" x2="189.96" y2="836.58"/>
<line x1="194.84" y1="766.42" x2="194.84" y2="829.08"/>
<line x1="199.72" y1="762.42" x2="199.72" y2="823.58"/>
<line x1="204.6" y1="756.42" x2="204.6" y2="819.08"/>
<line x1="209.47" y1="749.92" x2="209.47" y2="816.08"/>
<line x1="214.35" y1="745.42" x2="214.35" y2="810.08"/>
<line x1="219.23" y1="741.42" x2="219.23" y2="806.08"/>
<line x1="224.11" y1="737.42" x2="224.11" y2="802.08"/>
<line x1="228.99" y1="733.42" x2="228.99" y2="795.58"/>
<line x1="233.86" y1="727.92" x2="233.86" y2="792.08"/>
<line x1="238.74" y1="725.42" x2="238.74" y2="787.08"/>
<line x1="243.62" y1="719.42" x2="243.62" y2="783.58"/>
<line x1="248.5" y1="717.42" x2="248.5" y2="775.08"/>
<line x1="253.38" y1="710.42" x2="253.38" y2="773.58"/>
<line x1="258.25" y1="708.42" x2="258.25" y2="767.58"/>
<line x1="263.13" y1="705.42" x2="263.13" y2="763.58"/>
<line x1="268.01" y1="702.42" x2="268.01" y2="757.08"/>
<line x1="272.89" y1="699.42" x2="272.89" y2="755.58"/>
<line x1="277.77" y1="699.42" x2="277.77" y2="750.58"/>
<line x1="282.64" y1="699.42" x2="282.64" y2="743.58"/>
<line x1="287.52" y1="699.42" x2="287.52" y2="738.58"/>
<line x1="292.4" y1="699.42" x2="292.4" y2="736.58"/>
</g>
<g clip-path="url(#c5)" fill="#4C72B0" fill-opacity="0.75">
<circle cx="48.5" cy="897.4" r="2.42"/>
<circle cx="63.13" cy="884.5" r="2.42"/>
<circle cx="72.89" cy="881.6" r="2.42"/>
<circle cx="77.77" cy="875.2" r="2.42"/>
<circle cx="82.65" cy="873.8" r="2.42"/>
<circle cx="111.91" cy="841.5" r="2.42"/>
<circle cx="175.33" cy="781.8" r="2.42"/>
<circle cx="233.86" cy="722" r="2.42"/>
<circle cx="97.28" cy="923.1" r="2.42"/>
<circle cx="102.16" cy="920.1" r="2.42"/>
<circle cx="121.67" cy="904.1" r="2.42"/>
<circle cx="165.57" cy="863" r="2.42"/>
<circle cx="194.84" cy="834" r="2.42"/>
<circle cx="199.72" cy="827.9" r="2.42"/>
<circle cx="204.6" cy="824.4" r="2.42"/>
<circle cx="248.5" cy="780" r="2.42"/>
<circle cx="268.01" cy="762" r="2.42"/>
<circle cx="287.52" cy="745.5" r="2.42"/>
</g>
<g clip-path="url(#c5)" fill="none">
<line x1="48.5" y1="944.4" x2="295" y2="698.41" stroke="#000" stroke-opacity="0.5" stroke-width="1.6" stroke-dasharray="5.92,2.56"/>
<line x1="48.5" y1="933.1" x2="295" y2="705.4" stroke="#000" stroke-width="1.6" stroke-dasharray="5.92,2.56"/>
</g>
<rect x="48.5" y="698.4" width="246.5" height="246" fill="none" stroke="#D2D2D2" stroke-width="1.31"/>
<rect x="55.67" y="705.38" width="123.88" height="62.91" rx="2.42" fill="#fff" fill-opacity="0.8" stroke="#ccc" stroke-opacity="0.8" stroke-width="1.16"/>
<circle cx="74.28" cy="717.4" r="2.37" fill="#4C72B0" fill-opacity="0.8"/>
<line x1="60.67" y1="735.91" x2="87.85" y2="735.91" stroke="#000" stroke-width="1.6" stroke-dasharray="5.92,2.56"/>
<line x1="60.67" y1="755.59" x2="87.85" y2="755.59" stroke="#000" stroke-opacity="0.5" stroke-width="1.6" stroke-dasharray="5.92,2.56"/>
<g fill="#262626" font-family="'DejaVu Sans', 'Liberation Sans', sans-serif" font-size="13.38">
<text x="98.86" y="720.6" font-style="italic">R</text>
<text x="109.28" y="715.65" font-size="9.63">2</text>
<text x="122.56" y="721.08">=</text>
<text x="135.74" y="720.6">0.933</text>
<text x="99" y="740.57">best fit</text>
<text x="99" y="759.86">identity</text>
</g>
<g fill="#262626" font-family="'DejaVu Sans', 'Liberation Sans', sans-serif" font-size="13.38">
<text x="39.19" y="949.97" text-anchor="end">0</text>
<text x="48.5" y="964.56" text-anchor="middle">0</text>
<text x="39.19" y="901.29" text-anchor="end">10</text>
<text x="97.28" y="964.56" text-anchor="middle">10</text>
<text x="39.19" y="852.61" text-anchor="end">20</text>
<text x="146.06" y="964.56" text-anchor="middle">20</text>
<text x="39.19" y="803.93" text-anchor="end">30</text>
<text x="194.84" y="964.56" text-anchor="middle">30</text>
<text x="39.19" y="755.25" text-anchor="end">40</text>
<text x="243.62" y="964.56" text-anchor="middle">40</text>
<text x="39.19" y="706.57" text-anchor="end">50</text>
<text x="292.4" y="964.56" text-anchor="middle">50</text>
</g>
<text x="171.75" y="693.84" text-anchor="middle" fill="#262626" font-family="'DejaVu Sans', 'Liberation Sans', sans-serif" font-size="14.83">Stacking Regressor with Local Outlier Factor</text>
<text x="171.75" y="980.85" text-anchor="middle" fill="#262626" font-family="'DejaVu Sans', 'Liberation Sans', sans-serif" font-size="14.83" font-style="italic">y</text>
<g transform="translate(14.48,821.4) rotate(-90)" fill="#262626" font-family="'DejaVu Sans', 'Liberation Sans', sans-serif"><text text-anchor="middle" font-size="14.83" font-style="italic">y</text><text x="-3.1" y="-0.97" font-size="15.51">ˆ</text></g>
<clipPath id="c6"><rect x="398.8" y="690.6" width="252.8" height="252.6"/></clipPath>
<line x1="447.72" y1="690.6" x2="447.72" y2="943.2" stroke="#D6D6D6" stroke-width="0.99"/>
<line x1="398.8" y1="894.44" x2="651.6" y2="894.44" stroke="#D6D6D6" stroke-width="0.99"/>
<line x1="496.64" y1="690.6" x2="496.64" y2="943.2" stroke="#D6D6D6" stroke-width="0.99"/>
<line x1="398.8" y1="845.68" x2="651.6" y2="845.68" stroke="#D6D6D6" stroke-width="0.99"/>
<line x1="545.56" y1="690.6" x2="545.56" y2="943.2" stroke="#D6D6D6" stroke-width="0.99"/>
<line x1="398.8" y1="796.92" x2="651.6" y2="796.92" stroke="#D6D6D6" stroke-width="0.99"/>
<line x1="594.48" y1="690.6" x2="594.48" y2="943.2" stroke="#D6D6D6" stroke-width="0.99"/>
<line x1="398.8" y1="748.16" x2="651.6" y2="748.16" stroke="#D6D6D6" stroke-width="0.99"/>
<line x1="643.4" y1="690.6" x2="643.4" y2="943.2" stroke="#D6D6D6" stroke-width="0.99"/>
<line x1="398.8" y1="699.4" x2="651.6" y2="699.4" stroke="#D6D6D6" stroke-width="0.99"/>
<g clip-path="url(#c6)" fill="#6283BC">
<rect x="398.8" y="902.49" width="4.89" height="20.03"/>
<rect x="403.69" y="897.49" width="4.89" height="26.03"/>
<rect x="408.58" y="894.49" width="4.89" height="29.03"/>
<rect x="413.48" y="890.49" width="4.89" height="32.03"/>
<rect x="418.37" y="888.49" width="4.89" height="34.03"/>
<rect x="423.26" y="883.49" width="4.89" height="37.03"/>
<rect x="428.15" y="878.49" width="4.89" height="41.03"/>
<rect x="433.04" y="875.49" width="4.89" height="40.03"/>
<rect x="437.94" y="869.49" width="4.89" height="44.03"/>
<rect x="442.83" y="867.49" width="4.89" height="44.03"/>
<rect x="447.72" y="862.49" width="4.89" height="45.03"/>
<rect x="452.61" y="857.49" width="4.89" height="47.03"/>
<rect x="457.5" y="855.49" width="4.89" height="45.03"/>
<rect x="462.4" y="847.49" width="4.89" height="48.03"/>
<rect x="467.29" y="842.49" width="4.89" height="51.03"/>
<rect x="472.18" y="838.99" width="4.89" height="50.53"/>
<rect x="477.07" y="834.49" width="4.89" height="53.03"/>
<rect x="481.96" y="830.49" width="4.89" height="53.03"/>
<rect x="486.86" y="826.49" width="4.89" height="52.03"/>
<rect x="491.75" y="820.49" width="4.89" height="54.03"/>
<rect x="496.64" y="816.49" width="4.89" height="53.53"/>
<rect x="501.53" y="810.49" width="4.89" height="55.53"/>
<rect x="506.42" y="806.49" width="4.89" height="55.03"/>
<rect x="511.32" y="801.49" width="4.89" height="55.53"/>
<rect x="516.21" y="799.49" width="4.89" height="52.03"/>
<rect x="521.1" y="790.49" width="4.89" height="57.03"/>
<rect x="525.99" y="785.49" width="4.89" height="56.03"/>
<rect x="530.88" y="780.49" width="4.89" height="58.03"/>
<rect x="535.78" y="776.49" width="4.89" height="57.03"/>
<rect x="540.67" y="771.99" width="4.89" height="54.53"/>
<rect x="545.56" y="768.49" width="4.89" height="57.03"/>
<rect x="550.45" y="762.49" width="4.89" height="56.03"/>
<rect x="555.34" y="756.49" width="4.89" height="57.03"/>
<rect x="560.24" y="749.49" width="4.89" height="59.53"/>
<rect x="565.13" y="744.49" width="4.89" height="60.03"/>
<rect x="570.02" y="741.49" width="4.89" height="58.53"/>
<rect x="574.91" y="736.49" width="4.89" height="60.03"/>
<rect x="579.8" y="731.49" width="4.89" height="60.03"/>
<rect x="584.7" y="723.49" width="4.89" height="64.53"/>
<rect x="589.59" y="722.49" width="4.89" height="61.03"/>
<rect x="594.48" y="716.49" width="4.89" height="64.03"/>
<rect x="599.37" y="711.49" width="4.89" height="62.03"/>
<rect x="604.26" y="705.49" width="4.89" height="64.03"/>
<rect x="609.16" y="704.49" width="4.89" height="58.03"/>
<rect x="614.05" y="699.49" width="4.89" height="59.03"/>
<rect x="618.94" y="694.49" width="4.89" height="57.03"/>
<rect x="623.83" y="694.49" width="4.89" height="53.03"/>
<rect x="628.72" y="694.49" width="4.89" height="48.03"/>
<rect x="633.62" y="695.49" width="4.89" height="41.03"/>
<rect x="638.51" y="696.49" width="4.89" height="37.03"/>
</g>
<g clip-path="url(#c6)" stroke="#4C72B0" stroke-width="4.97" stroke-linecap="round" stroke-opacity="1">
<line x1="398.8" y1="902.49" x2="398.8" y2="922.51"/>
<line x1="403.69" y1="897.49" x2="403.69" y2="923.51"/>
<line x1="408.58" y1="894.49" x2="408.58" y2="924.51"/>
<line x1="413.48" y1="890.49" x2="413.48" y2="923.51"/>
<line x1="418.37" y1="888.49" x2="418.37" y2="922.51"/>
<line x1="423.26" y1="883.49" x2="423.26" y2="923.51"/>
<line x1="428.15" y1="878.49" x2="428.15" y2="920.51"/>
<line x1="433.04" y1="875.49" x2="433.04" y2="919.51"/>
<line x1="437.94" y1="869.49" x2="437.94" y2="915.51"/>
<line x1="442.83" y1="867.49" x2="442.83" y2="913.51"/>
<line x1="447.72" y1="862.49" x2="447.72" y2="911.51"/>
<line x1="452.61" y1="857.49" x2="452.61" y2="907.51"/>
<line x1="457.5" y1="855.49" x2="457.5" y2="904.51"/>
<line x1="462.4" y1="847.49" x2="462.4" y2="900.51"/>
<line x1="467.29" y1="842.49" x2="467.29" y2="895.51"/>
<line x1="472.18" y1="838.99" x2="472.18" y2="893.51"/>
<line x1="477.07" y1="834.49" x2="477.07" y2="889.51"/>
<line x1="481.96" y1="830.49" x2="481.96" y2="887.51"/>
<line x1="486.86" y1="826.49" x2="486.86" y2="883.51"/>
<line x1="491.75" y1="820.49" x2="491.75" y2="878.51"/>
<line x1="496.64" y1="816.49" x2="496.64" y2="874.51"/>
<line x1="501.53" y1="810.49" x2="501.53" y2="870.01"/>
<line x1="506.42" y1="806.49" x2="506.42" y2="866.01"/>
<line x1="511.32" y1="801.49" x2="511.32" y2="861.51"/>
<line x1="516.21" y1="799.49" x2="516.21" y2="857.01"/>
<line x1="521.1" y1="790.49" x2="521.1" y2="851.51"/>
<line x1="525.99" y1="785.49" x2="525.99" y2="847.51"/>
<line x1="530.88" y1="780.49" x2="530.88" y2="841.51"/>
<line x1="535.78" y1="776.49" x2="535.78" y2="838.51"/>
<line x1="540.67" y1="771.99" x2="540.67" y2="833.51"/>
<line x1="545.56" y1="768.49" x2="545.56" y2="826.51"/>
<line x1="550.45" y1="762.49" x2="550.45" y2="825.51"/>
<line x1="555.34" y1="756.49" x2="555.34" y2="818.51"/>
<line x1="560.24" y1="749.49" x2="560.24" y2="813.51"/>
<line x1="565.13" y1="744.49" x2="565.13" y2="809.01"/>
<line x1="570.02" y1="741.49" x2="570.02" y2="804.51"/>
<line x1="574.91" y1="736.49" x2="574.91" y2="800.01"/>
<line x1="579.8" y1="731.49" x2="579.8" y2="796.51"/>
<line x1="584.7" y1="723.49" x2="584.7" y2="791.51"/>
<line x1="589.59" y1="722.49" x2="589.59" y2="788.01"/>
<line x1="594.48" y1="716.49" x2="594.48" y2="783.51"/>
<line x1="599.37" y1="711.49" x2="599.37" y2="780.51"/>
<line x1="604.26" y1="705.49" x2="604.26" y2="773.51"/>
<line x1="609.16" y1="704.49" x2="609.16" y2="769.51"/>
<line x1="614.05" y1="699.49" x2="614.05" y2="762.51"/>
<line x1="618.94" y1="694.49" x2="618.94" y2="758.51"/>
<line x1="623.83" y1="694.49" x2="623.83" y2="751.51"/>
<line x1="628.72" y1="694.49" x2="628.72" y2="747.51"/>
<line x1="633.62" y1="694.49" x2="633.62" y2="742.51"/>
<line x1="638.51" y1="695.49" x2="638.51" y2="736.51"/>
<line x1="643.4" y1="696.49" x2="643.4" y2="733.51"/>
</g>
<g clip-path="url(#c6)" fill="#4C72B0" fill-opacity="0.75">
<circle cx="599.37" cy="783" r="2.49"/>
</g>
<g clip-path="url(#c6)" fill="none">
<line x1="398.8" y1="943.2" x2="651.6" y2="691.23" stroke="#000" stroke-opacity="0.5" stroke-width="1.64" stroke-dasharray="6.07,2.62"/>
<line x1="398.8" y1="931.1" x2="651.6" y2="699" stroke="#000" stroke-width="1.64" stroke-dasharray="6.07,2.62"/>
</g>
<rect x="398.8" y="690.6" width="252.8" height="252.6" fill="none" stroke="#D2D2D2" stroke-width="1.34"/>
<rect x="406.16" y="697.76" width="127.05" height="64.52" rx="2.49" fill="#fff" fill-opacity="0.8" stroke="#ccc" stroke-opacity="0.8" stroke-width="1.19"/>
<circle cx="425.24" cy="710.08" r="2.44" fill="#4C72B0" fill-opacity="0.8"/>
<line x1="411.28" y1="729.07" x2="439.16" y2="729.07" stroke="#000" stroke-width="1.64" stroke-dasharray="6.07,2.62"/>
<line x1="411.28" y1="749.25" x2="439.16" y2="749.25" stroke="#000" stroke-opacity="0.5" stroke-width="1.64" stroke-dasharray="6.07,2.62"/>
<g fill="#262626" font-family="'DejaVu Sans', 'Liberation Sans', sans-serif" font-size="13.72">
<text x="450.44" y="713.36" font-style="italic">R</text>
<text x="461.13" y="708.3" font-size="9.88">2</text>
<text x="474.75" y="713.86">=</text>
<text x="488.27" y="713.36">0.931</text>
<text x="450.59" y="733.84">best fit</text>
<text x="450.59" y="753.63">identity</text>
</g>
<g fill="#262626" font-family="'DejaVu Sans', 'Liberation Sans', sans-serif" font-size="13.72">
<text x="389.25" y="948.91" text-anchor="end">0</text>
<text x="398.8" y="963.88" text-anchor="middle">0</text>
<text x="389.25" y="900.15" text-anchor="end">10</text>
<text x="447.72" y="963.88" text-anchor="middle">10</text>
<text x="389.25" y="851.39" text-anchor="end">20</text>
<text x="496.64" y="963.88" text-anchor="middle">20</text>
<text x="389.25" y="802.63" text-anchor="end">30</text>
<text x="545.56" y="963.88" text-anchor="middle">30</text>
<text x="389.25" y="753.87" text-anchor="end">40</text>
<text x="594.48" y="963.88" text-anchor="middle">40</text>
<text x="389.25" y="705.11" text-anchor="end">50</text>
<text x="643.4" y="963.88" text-anchor="middle">50</text>
</g>
<text x="525.2" y="685.93" text-anchor="middle" fill="#262626" font-family="'DejaVu Sans', 'Liberation Sans', sans-serif" font-size="15.21">Voting Regressor with Local Outlier Factor</text>
<text x="525.2" y="980.58" text-anchor="middle" fill="#262626" font-family="'DejaVu Sans', 'Liberation Sans', sans-serif" font-size="15.21" font-style="italic">y</text>
<g transform="translate(363.91,816.9) rotate(-90)" fill="#262626" font-family="'DejaVu Sans', 'Liberation Sans', sans-serif"><text text-anchor="middle" font-size="15.21" font-style="italic">y</text><text x="-3.18" y="-0.99" font-size="15.91">ˆ</text></g>
</svg></body></html>
